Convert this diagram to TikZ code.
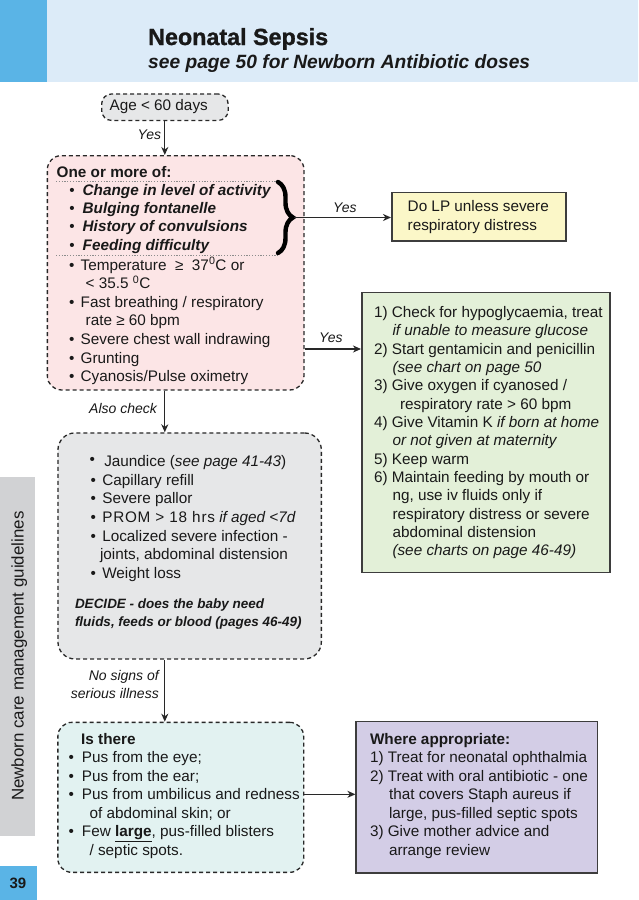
\documentclass[tikz,border=0pt]{standalone}
\usepackage{fontspec}
\setmainfont{Liberation Sans}
\newfontfamily\titlefont[BoldFeatures={FakeBold=1.2}]{Liberation Sans}
\usetikzlibrary{arrows.meta,decorations.pathreplacing}
\definecolor{bluestrip}{RGB}{90,180,230}
\definecolor{headband}{RGB}{220,235,248}
\definecolor{sidegray}{RGB}{209,210,212}
\definecolor{pinkfill}{RGB}{252,229,230}
\definecolor{grayfill}{RGB}{230,231,232}
\definecolor{cyanfill}{RGB}{226,242,241}
\definecolor{greenfill}{RGB}{227,240,216}
\definecolor{yellowfill}{RGB}{251,247,200}
\definecolor{purplefill}{RGB}{211,205,230}
\definecolor{linec}{RGB}{40,40,40}
\definecolor{textc}{RGB}{25,25,25}
\newcommand\bul[1]{\makebox[#1][l]{•}}
\tikzset{
  dbox/.style={draw=linec, line width=1.3pt, dash pattern=on 4pt off 3pt, rounded corners=14pt, anchor=north west, inner sep=0pt},
  sbox/.style={draw=linec!90, line width=1.6pt, anchor=north west, inner sep=0pt},
  txt/.style={anchor=north west, inner sep=0pt, outer sep=0pt, align=left, text=textc},
  lbl/.style={anchor=base west, inner sep=0pt, text=textc, font=\fontsize{14}{16}\selectfont\itshape},
  arr/.style={draw=linec, line width=1.2pt, -{Stealth[length=8pt,width=7pt,inset=2.5pt]}},
  sep/.style={draw=black!45, line width=0.9pt, dash pattern=on 1.2pt off 1.6pt},
}
\begin{document}
\begin{tikzpicture}[x=1pt,y=-1pt]
\useasboundingbox (0,0) rectangle (638,900);
\fill[white] (0,0) rectangle (638,900);
% header
\fill[headband] (47,0) rectangle (638,82);
\fill[bluestrip] (0,0) rectangle (47,82);
\node[anchor=base west, inner sep=0pt, font=\titlefont\fontsize{23.3}{28}\selectfont\bfseries, text=textc] (title) at (148,45) {Neonatal Sepsis};
\node[anchor=base west, inner sep=0pt, font=\fontsize{19.2}{23}\selectfont\bfseries\itshape, text=textc] (subtitle) at (148,68.3) {see page 50 for Newborn Antibiotic doses};
% side bar
\fill[sidegray] (0,477) rectangle (35,836);
\node[anchor=base west, rotate=90, inner sep=0pt, font=\fontsize{16.9}{20}\selectfont, text=textc] (side) at (23.5,801) {Newborn care management guidelines};
\fill[bluestrip] (0,866) rectangle (37,900);
\node[inner sep=0pt, font=\fontsize{15}{18}\selectfont\bfseries, text=textc] (pagenum) at (18,883.5) {39};

% boxes
\node[dbox, fill=grayfill, rounded corners=10pt, minimum width=126.5pt, minimum height=26.5pt] (age) at (101,93.3) {};
\node[inner sep=0pt, font=\fontsize{15.3}{18}\selectfont, text=textc] (agetext) at (158.7,107) {Age < 60 days};
\node[dbox, fill=pinkfill, minimum width=256.6pt, minimum height=234.3pt] (pink) at (46.7,155) {};
\node[sbox, fill=yellowfill, minimum width=174pt, minimum height=48.3pt] (lp) at (391,191.7) {};
\node[sbox, fill=greenfill, minimum width=248.3pt, minimum height=280pt] (green) at (361,291.7) {};
\node[dbox, fill=grayfill, rounded corners=17pt, minimum width=263.4pt, minimum height=226pt] (gray) at (57.3,432.3) {};
\node[dbox, fill=cyanfill, minimum width=245.8pt, minimum height=150pt] (cyan) at (57.2,721.7) {};
\node[sbox, fill=purplefill, minimum width=241.4pt, minimum height=151.6pt] (purple) at (355.4,720.7) {};

% pink contents
\draw[sep] (56,181) -- (278,181);
\draw[sep] (56,255) -- (278,255);
\node[txt, font=\fontsize{15.3}{18.3}\selectfont] (pinkhead) at (56.7,164.2) {\strut\textbf{One or more of:}\\
\hspace*{12.6pt}\bul{13.4pt}\textbf{\textit{Change in level of activity}}\\
\hspace*{12.6pt}\bul{13.4pt}\textbf{\textit{Bulging fontanelle}}\\
\hspace*{12.6pt}\bul{13.4pt}\textbf{\textit{History of convulsions}}\\
\hspace*{12.6pt}\bul{13.4pt}\textbf{\textit{Feeding difficulty}}};
\node[txt, font=\fontsize{15.3}{18.6}\selectfont] (pinklist) at (69,257) {\strut\bul{11.7pt}Temperature \ ≥ \ 37\textsuperscript{0}C or\\
\hspace*{16.7pt}< 35.5 \textsuperscript{0}C\\
\bul{11.7pt}Fast breathing / respiratory\\
\hspace*{16.7pt}rate ≥ 60 bpm\\
\bul{11.7pt}Severe chest wall indrawing\\
\bul{11.7pt}Grunting\\
\bul{11.7pt}Cyanosis/Pulse oximetry};
\draw[decorate, decoration={brace, amplitude=15pt}, line width=4.4pt, draw=black, line cap=round] (278,182) -- (278,253);
\coordinate (bracetip) at (294,217.5);

% LP contents
\node[txt, font=\fontsize{15.3}{18.3}\selectfont] (lptext) at (407.7,198.9) {\strut Do LP unless severe\\respiratory distress};

% green contents
\node[txt, font=\fontsize{15.3}{18.36}\selectfont] (greentext) at (374,304.45) {\strut 1) Check for hypoglycaemia, treat\\
\hspace*{18.5pt}\textit{if unable to measure glucose}\\
2) Start gentamicin and penicillin\\
\hspace*{18.5pt}\textit{(see chart on page 50}\\
3) Give oxygen if cyanosed /\\
\hspace*{26pt}respiratory rate > 60 bpm\\
4) Give Vitamin K \textit{if born at home}\\
\hspace*{18.5pt}\textit{or not given at maternity}\\
5) Keep warm\\
6) Maintain feeding by mouth or\\
\hspace*{18.5pt}ng, use iv fluids only if\\
\hspace*{18.5pt}respiratory distress or severe\\
\hspace*{18.5pt}abdominal distension\\
\hspace*{18.5pt}\textit{(see charts on page 46-49)}};

% gray contents
\node[txt, font=\fontsize{15.3}{18.6}\selectfont] (graytext) at (89.5,453.7) {\strut\makebox[14.8pt][l]{\raisebox{2pt}{•}}Jaundice (\textit{see page 41-43})\\
\hspace*{1pt}\bul{11.8pt}Capillary refill\\
\hspace*{1pt}\bul{11.8pt}Severe pallor\\
\hspace*{1pt}\bul{11.8pt}{\addfontfeatures{LetterSpace=5}PROM > 18 hrs} \textit{if aged <7d}\\
\hspace*{1pt}\bul{11.8pt}Localized severe infection -\\
\hspace*{10.5pt}joints, abdominal distension\\
\hspace*{1pt}\bul{11.8pt}Weight loss};
\node[txt, font=\fontsize{13.5}{17.7}\selectfont\bfseries\itshape] (decide) at (75,596.6) {\strut DECIDE - does the baby need\\fluids, feeds or blood (pages 46-49)};

% cyan contents
\node[txt, font=\fontsize{15.3}{18.45}\selectfont] (cyantext) at (68.6,731.4) {\strut\hspace*{12.6pt}\textbf{Is there}\\
\bul{13.4pt}Pus from the eye;\\
\bul{13.4pt}Pus from the ear;\\
\bul{13.4pt}Pus from umbilicus and redness\\
\hspace*{21pt}of abdominal skin; or\\
\bul{13.4pt}Few \underline{\textbf{large}}, pus-filled blisters\\
\hspace*{21pt}/ septic spots.};

% purple contents
\node[txt, font=\fontsize{15.3}{18.45}\selectfont] (purpletext) at (370,731.4) {\strut\textbf{Where appropriate:}\\
1) Treat for neonatal ophthalmia\\
2) Treat with oral antibiotic - one\\
\hspace*{19pt}that covers Staph aureus if\\
\hspace*{19pt}large, pus-filled septic spots\\
3) Give mother advice and\\
\hspace*{19pt}arrange review};

% connectors
\coordinate (col) at (164.8,0);
\draw[arr] (age.south -| col) -- (pink.north -| col);
\node[lbl] (yes1) at (137.5,139) {Yes};
\draw[arr] (bracetip) -- (bracetip -| lp.west);
\node[lbl] (yes2) at (333,212.7) {Yes};
\coordinate (g) at (0,349);
\draw[arr] (g -| pink.east) -- (g -| green.west);
\node[lbl] (yes3) at (319,342.7) {Yes};
\draw[arr] (pink.south -| col) -- (gray.north -| col);
\node[lbl] (alsocheck) at (89,413.3) {Also check};
\draw[arr] (gray.south -| col) -- (cyan.north -| col);
\node[anchor=north east, inner sep=0pt, align=right, text=textc, font=\fontsize{14}{18.3}\selectfont\itshape] (nosigns) at (159,667.2) {\strut No signs of\\serious illness};
\coordinate (c) at (0,794.3);
\draw[arr] (c -| cyan.east) -- (c -| purple.west);
\end{tikzpicture}
\end{document}
